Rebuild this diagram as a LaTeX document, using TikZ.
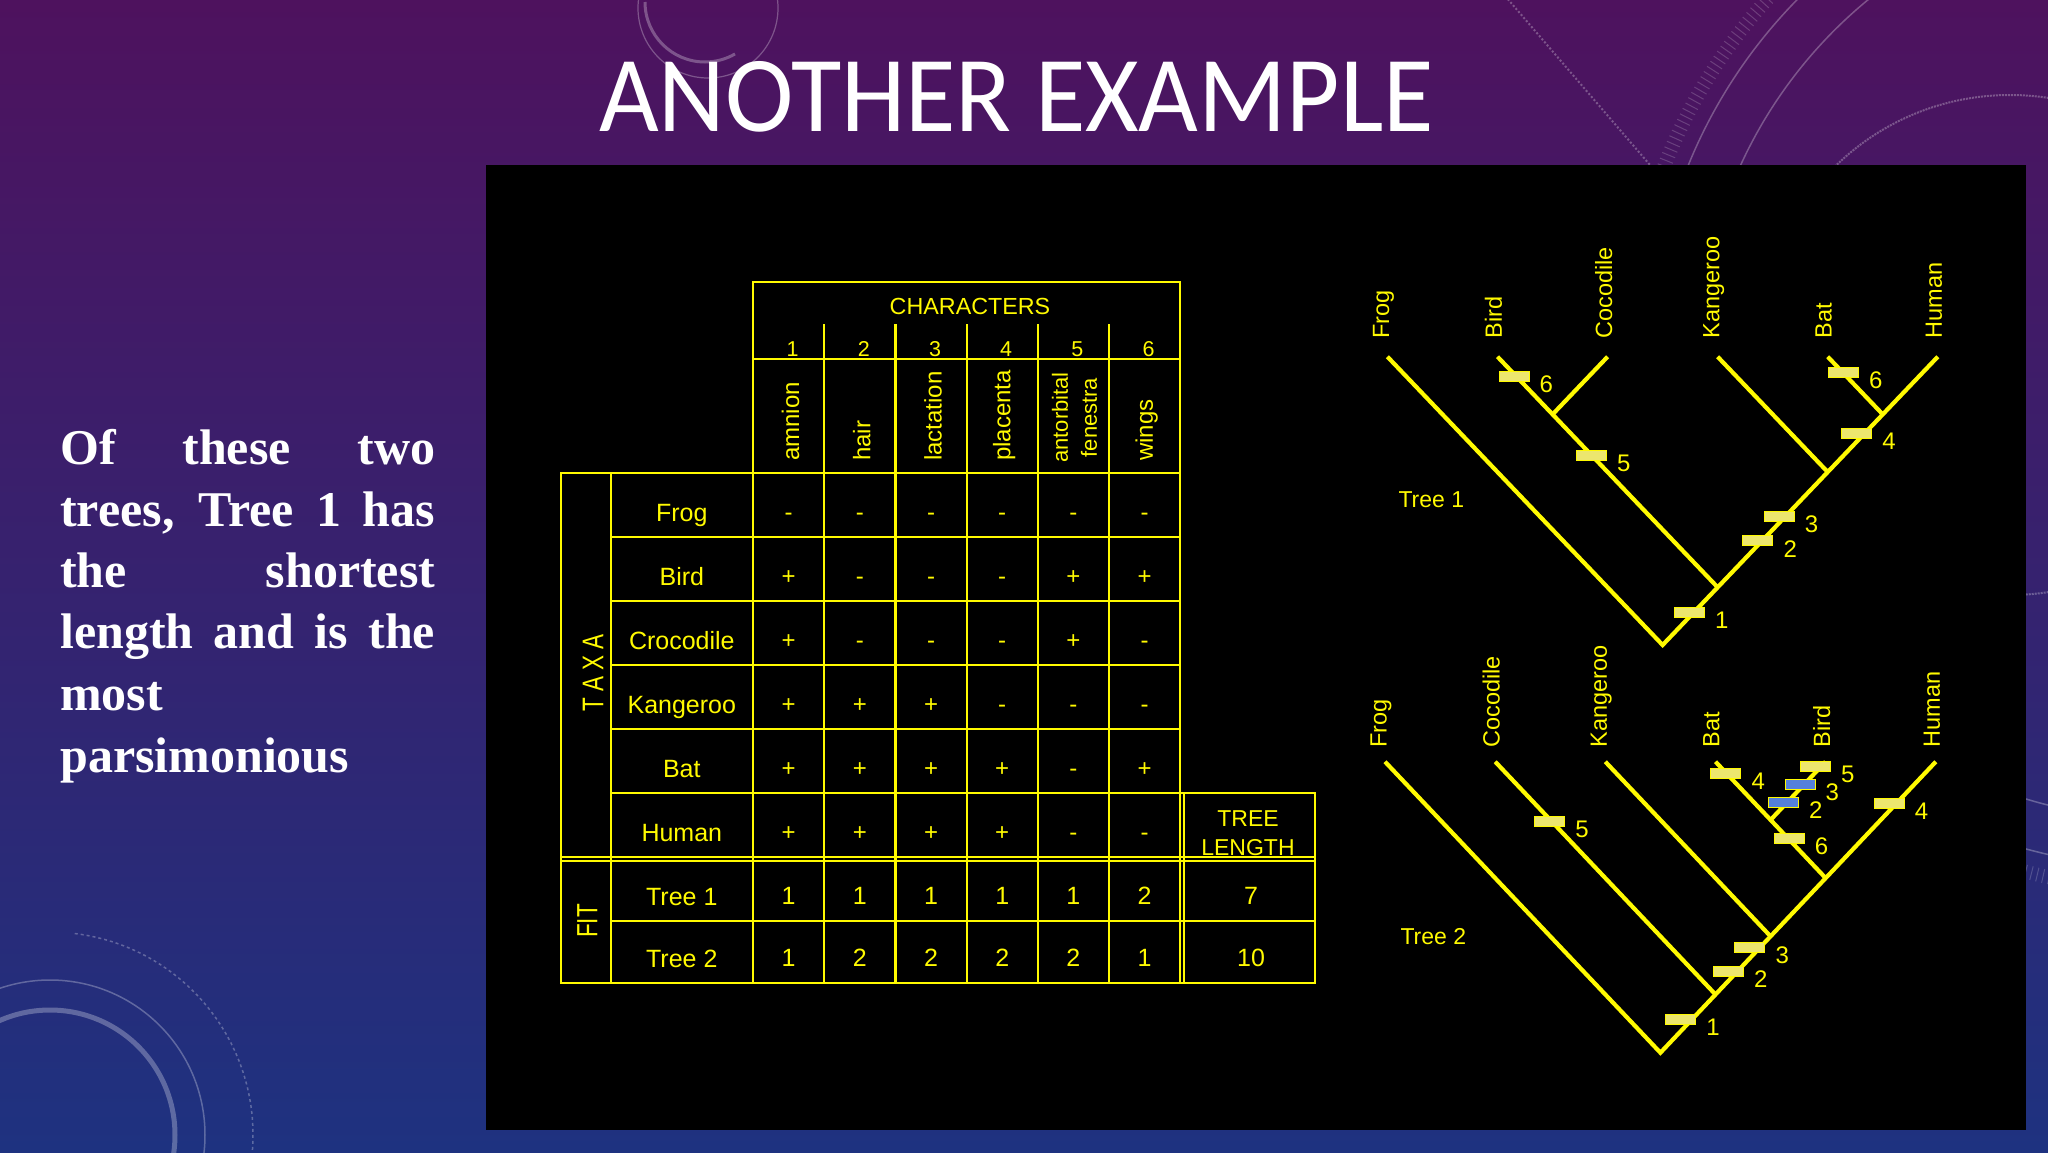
\documentclass[tikz,border=0pt]{standalone}
\usepackage{fontspec}
\setmainfont{Liberation Serif}
\newfontfamily\arialfont{Liberation Sans}
\newfontfamily\calibrifont{Carlito}
\usepackage{tikz}
\usetikzlibrary{positioning}
\definecolor{bgtop}{RGB}{78,18,94}
\definecolor{bgmid}{RGB}{52,28,110}
\definecolor{bgbot}{RGB}{30,50,128}
\definecolor{cladeyellow}{RGB}{255,250,0}
\definecolor{barfill}{RGB}{236,230,110}
\definecolor{barblue}{RGB}{84,128,220}
\newcommand\ColW{71.2}
\newcommand\RowOff{15}
\tikzset{
  tabline/.style={
    draw = cladeyellow,
    line width = 2.2pt,
    line cap = rect
  },
  celltext/.style={
    text = cladeyellow,
    inner sep = 0pt,
    anchor = base,
    font = \arialfont\fontsize{24}{28}\selectfont
  },
  rowlabel/.style={
    celltext,
    font = \arialfont\fontsize{25}{28}\selectfont
  },
  colname/.style={
    celltext,
    rotate = 90,
    anchor = west,
    align = center,
    font = \arialfont\fontsize{24}{29}\selectfont
  },
  sidelabel/.style={
    celltext,
    rotate = 90,
    anchor = center,
    font = \arialfont\fontsize{22.5}{26}\selectfont
  },
}
\tikzset{
  branch/.style={
    draw = cladeyellow,
    line width = 4.2pt
  },
  charbar/.style={
    draw = cladeyellow,
    line width = 1pt,
    fill = barfill,
    minimum width = 30pt,
    minimum height = 10pt,
    inner sep = 0pt
  },
  bluebar/.style={
    charbar,
    fill = barblue
  },
  charnum/.style={
    text = cladeyellow,
    inner sep = 0pt,
    font = \arialfont\fontsize{24}{28}\selectfont
  },
  taxon/.style={
    text = cladeyellow,
    rotate = 90,
    anchor = west,
    inner sep = 0pt,
    font = \arialfont\fontsize{23.5}{28}\selectfont
  },
  treename/.style={
    text = cladeyellow,
    anchor = base west,
    inner sep = 0pt,
    font = \arialfont\fontsize{23}{28}\selectfont
  },
  decor/.style={
    draw = white,
    opacity = 0.28
  },
  bodyline/.style={
    text = white,
    anchor = base west,
    inner sep = 0pt,
    font = \fontsize{50}{61.5}\selectfont\bfseries
  },
  titletext/.style={
    text = white,
    anchor = base,
    inner sep = 0pt,
    font = \calibrifont\fontsize{108}{120}\selectfont
  }
}

\begin{document}
\begin{tikzpicture}[x=1pt, y=-1pt]
\useasboundingbox (0,0) rectangle (2048,1152);

% slide background
\shade[top color=bgtop, middle color=bgmid, bottom color=bgbot] (0,0) rectangle (2048,1152);

\coordinate (trc) at (2161,357);
\draw[decor, line width=1.5pt] (trc) circle[radius=510pt];
\draw[decor, line width=1.5pt] (trc) circle[radius=462pt];
\draw[decor, line width=14pt, dash pattern=on 1pt off 5pt, opacity=0.18] (trc) circle[radius=532pt];
\draw[decor, densely dotted, line width=2pt] (2010,345) circle[radius=250pt];
\draw[decor, dotted, line width=2pt] (1500,-10) -- (1680,200);

\coordinate (blc) at (50,1135);
\draw[decor, line width=5pt] (blc) circle[radius=125pt];
\draw[decor, line width=1.5pt] (blc) circle[radius=155pt];
\draw[decor, dashed, line width=1.5pt] ([shift={(83:203pt)}]blc) arc[start angle=83, end angle=-5, radius=203pt];

\coordinate (tlc) at (708,8);
\coordinate (tlc2) at (705,2);
\draw[decor, line width=1.2pt] (tlc) circle[radius=70pt];
\draw[decor, line width=3pt] ([shift={(180:60pt)}]tlc2) arc[start angle=180, end angle=300, radius=60pt];

% title and text
\node[titletext] (title) at (1016.5,131.7) {\scalebox{0.955}[1]{ANOTHER EXAMPLE}};

\node[bodyline] (line1) at (60,464) {\makebox[375pt][s]{Of these two}};
\node[bodyline] (line2) at (60,526) {\makebox[375pt][s]{trees, Tree 1 has}};
\node[bodyline] (line3) at (60,587) {\makebox[375pt][s]{the shortest}};
\node[bodyline] (line4) at (60,648) {\makebox[375pt][s]{length and is the}};
\node[bodyline] (line5) at (60,710) {most};
\node[bodyline] (line6) at (60,772) {parsimonious};

% black panel
\fill[black] (486,165) rectangle (2026,1130);

% character table
\node[celltext, font=\arialfont\fontsize{23.3}{28}\selectfont] (chars) at (970,314) {CHARACTERS};
\foreach \i in {1,...,6}
  \node[celltext, font=\arialfont\fontsize{21.5}{26}\selectfont] (charno\i) at ({717.4+\ColW*\i+4},356) {\i};
\foreach \name [count=\i] in {amnion,hair,lactation,placenta}
  \node[colname] (charname\i) at ({717.4+\ColW*\i+2},461) {\name};
\node[colname, font=\arialfont\fontsize{22}{29}\selectfont] (charname5) at ({717.4+\ColW*5+1},463) {antorbital\\fenestra};
\node[colname] (charname6) at ({717.4+\ColW*6+2},461) {wings};

\foreach \taxon/\yc/\vals [count=\r] in {Frog/505.3/{-,-,-,-,-,-}, Bird/569.3/{+,-,-,-,+,+}, Crocodile/633.3/{+,-,-,-,+,-}, Kangeroo/697.3/{+,+,+,-,-,-}, Bat/761.3/{+,+,+,+,-,+}, Human/825.3/{+,+,+,+,-,-}}{
  \node[rowlabel] (taxon\r) at (681.8,{\yc+16}) {\taxon};
  \foreach \v [count=\i] in \vals
    \node[celltext] (cell\r-\i) at ({717.4+\ColW*\i},{\yc+\RowOff}) {\v};
}

\foreach \tree/\yc/\vals/\len [count=\r] in {Tree 1/890.8/{1,1,1,1,1,2}/7, Tree 2/952.2/{1,2,2,2,2,1}/10}{
  \node[rowlabel] (fitrow\r) at (681.8,{\yc+15}) {\tree};
  \foreach \v [count=\i] in \vals
    \node[celltext, font=\arialfont\fontsize{25}{28}\selectfont] (fit\r-\i) at ({717.4+\ColW*\i},{\yc+14}) {\v};
  \node[celltext, font=\arialfont\fontsize{25}{28}\selectfont] (len\r) at (1251,{\yc+14}) {\len};
}

\node[sidelabel] (taxa) at (593,673) {\scalebox{1}[1.33]{T A X A}};
\node[sidelabel] (fit) at (587.4,921) {\scalebox{1}[1.3]{FIT}};
\node[celltext, anchor=center, align=center, font=\arialfont\fontsize{23}{29.3}\selectfont] (treelen) at (1248,833) {TREE\\LENGTH};

% grid
\draw[tabline] (753,282) -- (1180.2,282);
\draw[tabline] (753,282) -- (753,983.3);
\draw[tabline] (1180.2,282) -- (1180.2,983.3);
\foreach \i in {1,...,5}
  \draw[tabline] ({753+\ColW*\i},325) -- ({753+\ColW*\i},983.3);
\draw[tabline] (753,358.7) -- (1180.2,358.7);
\draw[tabline] (560.9,473.3) -- (1180.2,473.3);
\foreach \y in {537.3,601.3,665.3,729.3}
  \draw[tabline] (610.7,\y) -- (1180.2,\y);
\foreach \y in {793.3,921}
  \draw[tabline] (610.7,\y) -- (1315,\y);
\foreach \y in {857.3,860.7,983.3}
  \draw[tabline] (560.9,\y) -- (1315,\y);
\foreach \x in {560.9,610.7}
  \draw[tabline] (\x,473.3) -- (\x,983.3);
\foreach \x in {1184.2,1315}
  \draw[tabline] (\x,793.3) -- (\x,983.3);

% tree 1
\coordinate (f1) at (1387.4,356.7);
\coordinate (b1) at (1497.5,356.7);
\coordinate (c1) at (1607.6,356.7);
\coordinate (k1) at (1717.6,356.7);
\coordinate (t1) at (1827.7,356.7);
\coordinate (h1) at (1937.8,356.7);
\coordinate (r1) at (1662.6,645);
\coordinate (jbc1) at (1552.55,414.4);
\coordinate (jb1) at (1717.65,587.3);
\coordinate (jk1) at (1827.7,472.0);
\coordinate (jt1) at (1882.75,414.4);

\draw[branch] (f1) -- (r1) -- (h1);
\draw[branch] (b1) -- (jb1);
\draw[branch] (c1) -- (jbc1);
\draw[branch] (k1) -- (jk1);
\draw[branch] (t1) -- (jt1);

\foreach \c/\n in {f1/Frog, b1/Bird, c1/Cocodile, k1/Kangeroo, t1/Bat, h1/Human}
  \node[taxon] (l\c) at ([xshift=-4pt,yshift=18pt]\c) {\n};

\foreach \x/\y/\n/\sty [count=\i] in {1514/376/6/charbar, 1591.5/455.3/5/charbar, 1689.5/612.3/1/charbar, 1757.8/540.7/2/charbar, 1779.1/516/3/charbar, 1856.7/433.7/4/charbar, 1843.4/372/6/charbar}{
  \node[\sty] (t1bar\i) at (\x,\y) {};
  \node[charnum, right=10pt of t1bar\i, yshift=-8pt] (t1num\i) {\n};
}
\node[treename] (tree1) at (1398.3,507.7) {Tree 1};

% tree 2
\coordinate (f2) at (1385,761.7);
\coordinate (c2) at (1495.2,761.7);
\coordinate (k2) at (1605.3,761.7);
\coordinate (t2) at (1715.5,761.7);
\coordinate (b2) at (1825.6,761.7);
\coordinate (h2) at (1935.8,761.7);
\coordinate (r2) at (1660.4,1052.7);
\coordinate (jc2) at (1715.5,994.5);
\coordinate (jk2) at (1770.55,936.3);
\coordinate (jt2) at (1825.65,878.1);
\coordinate (jbb2) at (1770.55,819.9);

\draw[branch] (f2) -- (r2) -- (h2);
\draw[branch] (c2) -- (jc2);
\draw[branch] (k2) -- (jk2);
\draw[branch] (t2) -- (jt2);
\draw[branch] (b2) -- (jbb2);

\foreach \c/\n in {f2/Frog, c2/Cocodile, k2/Kangeroo, t2/Bat, b2/Bird, h2/Human}
  \node[taxon] (l\c) at ([xshift=-4pt,yshift=14pt]\c) {\n};

\foreach \x/\y/\n/\sty [count=\i] in {1725.8/773.3/4/charbar, 1815.5/766.7/5/charbar, 1800/784/3/bluebar, 1783.3/802.5/2/bluebar, 1789.2/838.3/6/charbar, 1889.2/803.3/4/charbar, 1549.7/821.7/5/charbar, 1749.8/947.3/3/charbar, 1728.5/971/2/charbar, 1680.7/1019.3/1/charbar}{
  \node[\sty] (t2bar\i) at (\x,\y) {};
  \node[charnum, right=10pt of t2bar\i, yshift=-8pt] (t2num\i) {\n};
}
\node[treename] (tree2) at (1400.3,944) {Tree 2};

\end{tikzpicture}
\end{document}
